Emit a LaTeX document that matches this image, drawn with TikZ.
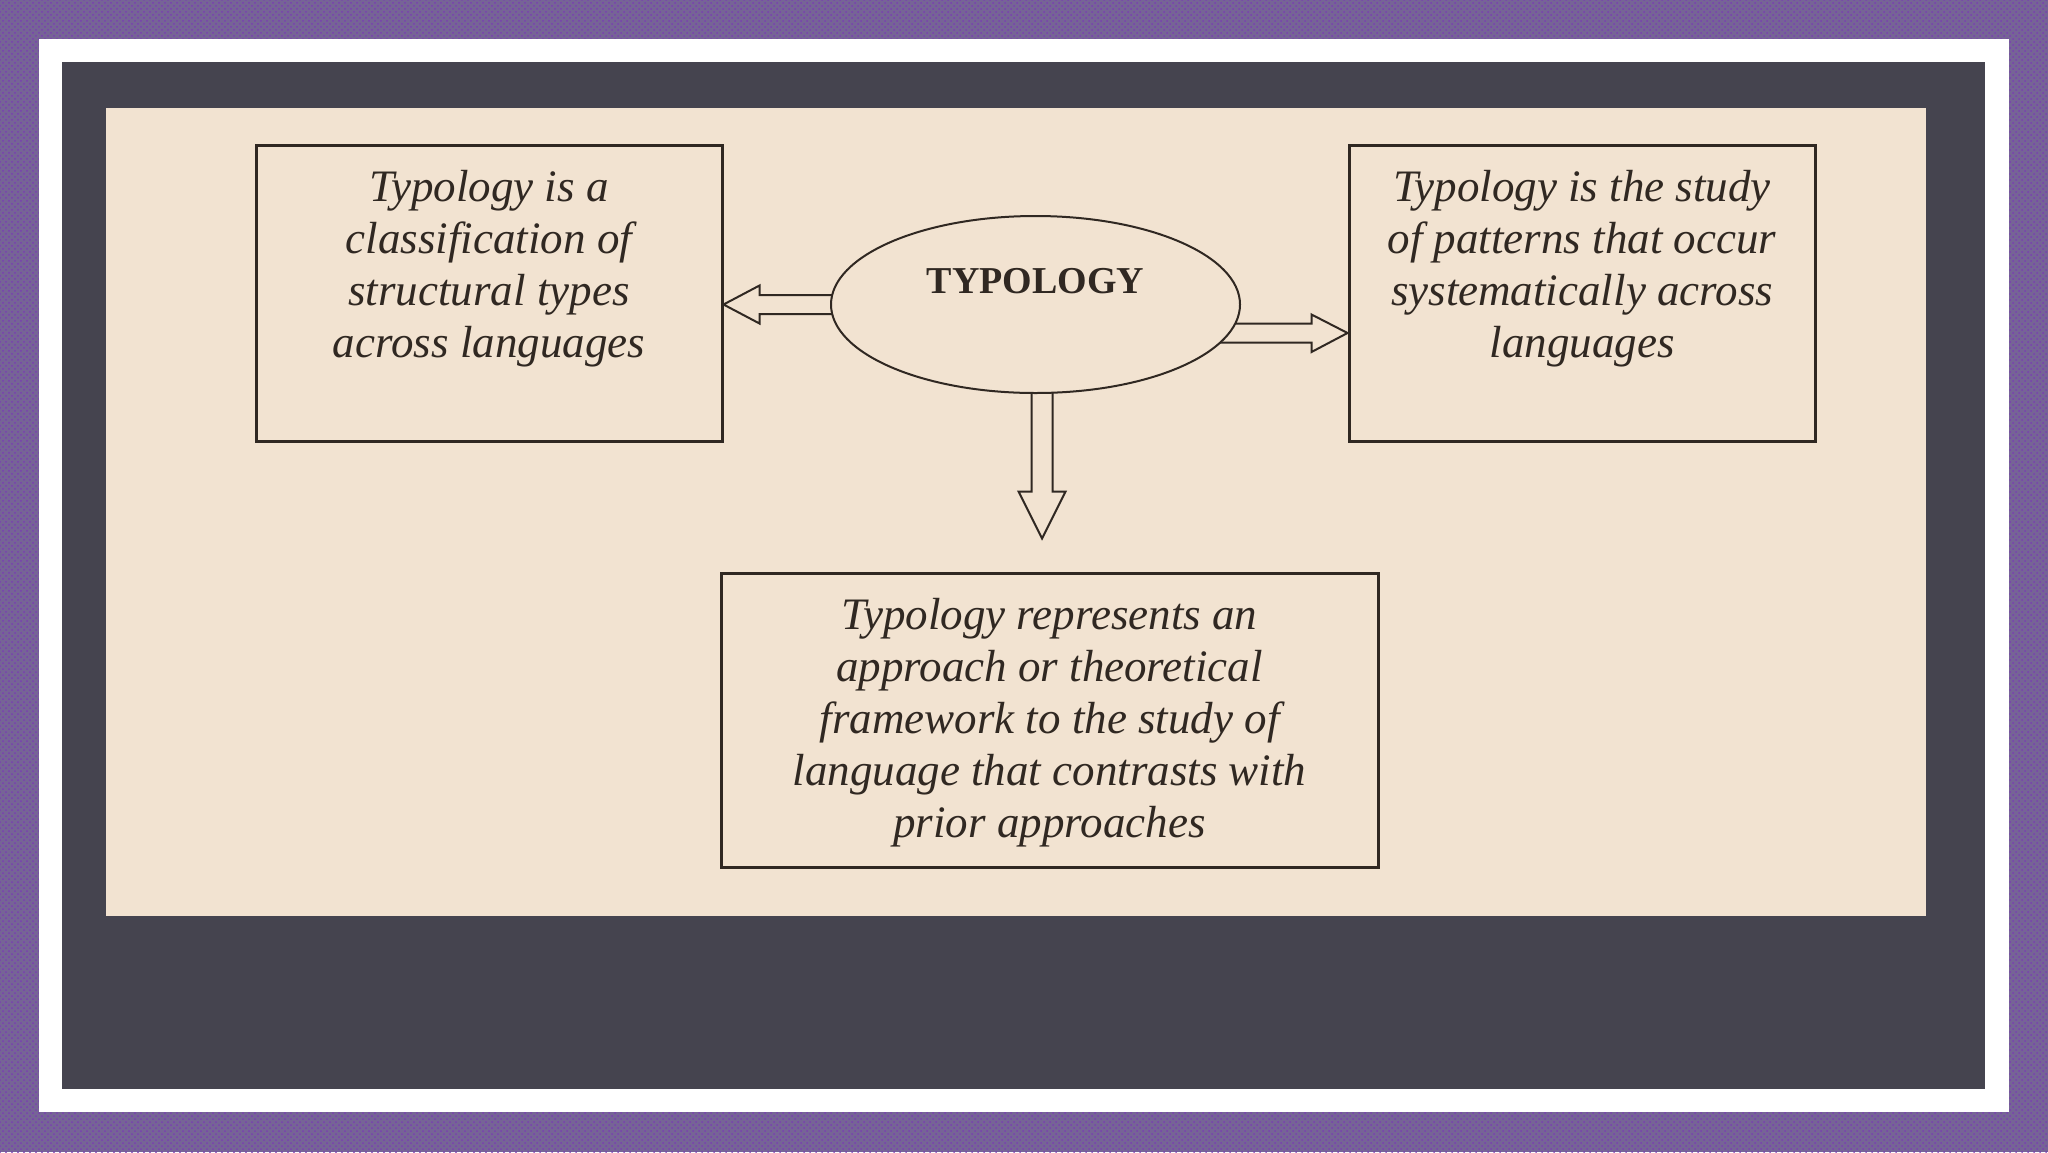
\documentclass[tikz,border=0pt]{standalone}
\usepackage{fontspec}
\setmainfont{Liberation Serif}
\usetikzlibrary{shapes.geometric,calc,patterns}
\definecolor{frameviolet}{RGB}{118,100,150}
\definecolor{framedot}{RGB}{122,62,178}
\definecolor{slate}{RGB}{69,68,79}
\definecolor{paper}{RGB}{242,227,209}
\definecolor{ink}{RGB}{48,40,34}
\begin{document}
\begin{tikzpicture}[x=0.5pt,y=-0.5pt,
  box/.style={draw=ink,line width=1.5pt,rectangle,inner sep=0pt,fill=paper},
  boxtext/.style={anchor=base,align=center,inner sep=0pt,text=ink,font=\fontsize{22.5}{26}\selectfont\itshape},
  blockarrow/.style={draw=ink,line width=1pt,fill=paper,line join=miter},
  hub/.style={draw=ink,line width=1pt,ellipse,inner sep=0pt,fill=paper},
  hublabel/.style={anchor=base,inner sep=0pt,text=ink,font=\fontsize{19}{22}\selectfont\bfseries}
]
\useasboundingbox (0,0) rectangle (2048,1152);
\fill[frameviolet] (0,0) rectangle (2048,1152);
\fill[pattern=crosshatch dots,pattern color=framedot] (0,0) rectangle (2048,1152);
\fill[white] (39,39) rectangle (2009,1112);
\fill[slate] (62,62) rectangle (1985,1089);
\fill[paper] (106,108) rectangle (1926,916);

% boxes
\node[box,minimum width=233pt,minimum height=148pt] (left) at (489,293) {};
\node[box,minimum width=233pt,minimum height=148pt] (right) at (1582,293) {};
\node[box,minimum width=328.5pt,minimum height=147pt] (bottom) at (1049.5,720) {};

% hub placeholder for anchors
\path (1035.5,304.5) node[hub,minimum width=204.5pt,minimum height=88.5pt,draw=none,fill=none] (typ) {};

% arrow tips
\coordinate (ltip) at (left.east |- typ.west);
\coordinate (rtip) at ($(right.west)+(0,40)$);
\coordinate (dtip) at ($(bottom.north)+(-7.5,-33)$);

% block arrows
\draw[blockarrow] (ltip) -- ++(36,-19) -- ++(0,9.5) -- ($(typ.west)+(20,-9.5)$)
  -- ++(0,19) -- ($(ltip)+(36,9.5)$) -- ++(0,9.5) -- cycle;
\draw[blockarrow] (rtip) -- ++(-36,-18.5) -- ++(0,9) -- ++(-120,0)
  -- ++(0,19) -- ++(120,0) -- ++(0,9.5) -- cycle;
\draw[blockarrow] (dtip) -- ++(-23.5,-47) -- ++(13,0) -- ++(0,-120)
  -- ++(21,0) -- ++(0,120) -- ++(13,0) -- cycle;

% hub ellipse
\node[hub,minimum width=204.5pt,minimum height=88.5pt] (typshape) at (typ) {};
\node[hublabel] (typlabel) at (1035.5,293) {TYPOLOGY};

% texts (base anchor = baseline of last line)
\node[boxtext] (lefttext) at (489,357) {Typology is a\\classification of\\structural types\\across languages};
\node[boxtext] (righttext) at (1582,357) {Typology is the study\\of patterns that occur\\systematically across\\languages};
\node[boxtext] (bottomtext) at (1049.5,837) {Typology represents an\\approach or theoretical\\framework to the study of\\language that contrasts with\\prior approaches};
\end{tikzpicture}
\end{document}
